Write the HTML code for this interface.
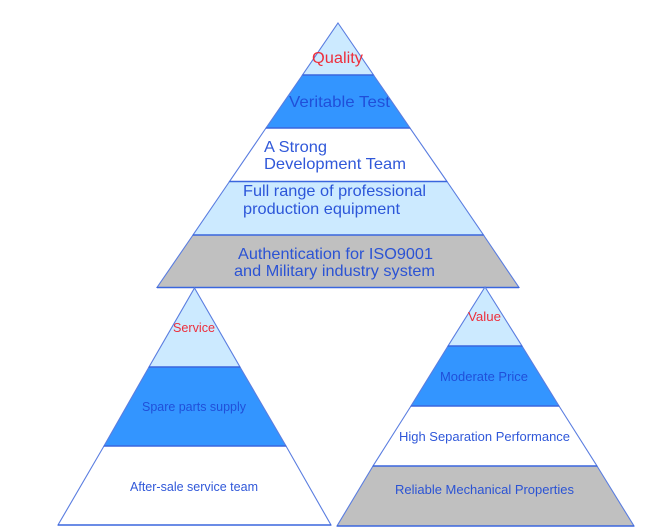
<!DOCTYPE html>
<html>
<head>
<meta charset="utf-8">
<style>
html,body{margin:0;padding:0;background:#fff;width:650px;height:530px;overflow:hidden}
svg{display:block}
text{font-family:"Liberation Sans",sans-serif;fill:#1f4ad6;opacity:.92}
text.r{fill:#f0202c}
polygon{stroke:#5a7de0;stroke-width:1.1;stroke-linejoin:miter}
line{stroke:#3a66de;stroke-width:1.4}
</style>
</head>
<body>
<svg width="650" height="530" viewBox="0 0 650 530" xmlns="http://www.w3.org/2000/svg">
<!-- Main pyramid -->
<polygon points="338,23 373.500,75 302.500,75" fill="#cceaff"/>
<polygon points="302.500,75 373.500,75 410,128 266,128" fill="#3395ff"/>
<polygon points="266,128 410,128 447,181.500 229.500,181.500" fill="#ffffff"/>
<polygon points="229.500,181.500 447,181.500 483.500,235 193,235" fill="#cceaff"/>
<polygon points="193,235 483.500,235 519,287.500 157,287.500" fill="#c0c0c0"/>
<line x1="302.500" y1="75" x2="373.500" y2="75"/>
<line x1="266" y1="128" x2="410" y2="128"/>
<line x1="229.500" y1="181.500" x2="447" y2="181.500"/>
<line x1="193" y1="235" x2="483.500" y2="235"/>
<line x1="157" y1="287.500" x2="519" y2="287.500"/>
<!-- Left pyramid -->
<polygon points="194.500,288 240,367 149,367" fill="#cceaff"/>
<polygon points="149,367 240,367 286,446 104,446" fill="#3395ff"/>
<polygon points="104,446 286,446 331,525 58,525" fill="#ffffff"/>
<line x1="149" y1="367" x2="240" y2="367"/>
<line x1="104" y1="446" x2="286" y2="446"/>
<line x1="58" y1="525" x2="331" y2="525"/>
<!-- Right pyramid -->
<polygon points="485,287 522,346 448,346" fill="#cceaff"/>
<polygon points="448,346 522,346 559,406 411,406" fill="#3395ff"/>
<polygon points="411,406 559,406 597,466 373,466" fill="#ffffff"/>
<polygon points="373,466 597,466 634,526 337,526" fill="#c0c0c0"/>
<line x1="448" y1="346" x2="522" y2="346"/>
<line x1="411" y1="406" x2="559" y2="406"/>
<line x1="373" y1="466" x2="597" y2="466"/>
<line x1="337" y1="526" x2="634" y2="526"/>
<!-- Labels -->
<text class="r" x="312" y="63" font-size="15.500" textLength="51" lengthAdjust="spacingAndGlyphs">Quality</text>
<text x="289" y="107" font-size="16" textLength="101" lengthAdjust="spacingAndGlyphs">Veritable Test</text>
<text x="264" y="152" font-size="16" textLength="63" lengthAdjust="spacingAndGlyphs">A Strong</text>
<text x="264" y="169" font-size="16" textLength="142" lengthAdjust="spacingAndGlyphs">Development Team</text>
<text x="243" y="196" font-size="16" textLength="183" lengthAdjust="spacingAndGlyphs">Full range of professional</text>
<text x="243" y="214" font-size="16" textLength="157" lengthAdjust="spacingAndGlyphs">production equipment</text>
<text x="238" y="259" font-size="16" textLength="195" lengthAdjust="spacingAndGlyphs">Authentication for ISO9001</text>
<text x="234" y="276" font-size="16" textLength="201" lengthAdjust="spacingAndGlyphs">and Military industry system</text>
<text class="r" x="173" y="332" font-size="13" textLength="42" lengthAdjust="spacingAndGlyphs">Service</text>
<text x="142" y="411" font-size="13" textLength="104" lengthAdjust="spacingAndGlyphs">Spare parts supply</text>
<text x="130" y="491" font-size="13" textLength="128" lengthAdjust="spacingAndGlyphs">After-sale service team</text>
<text class="r" x="468" y="321" font-size="13" textLength="33" lengthAdjust="spacingAndGlyphs">Value</text>
<text x="440" y="381" font-size="13" textLength="88" lengthAdjust="spacingAndGlyphs">Moderate Price</text>
<text x="399" y="441" font-size="13" textLength="171" lengthAdjust="spacingAndGlyphs">High Separation Performance</text>
<text x="395" y="494" font-size="13" textLength="179" lengthAdjust="spacingAndGlyphs">Reliable Mechanical Properties</text>
</svg>
</body>
</html>
